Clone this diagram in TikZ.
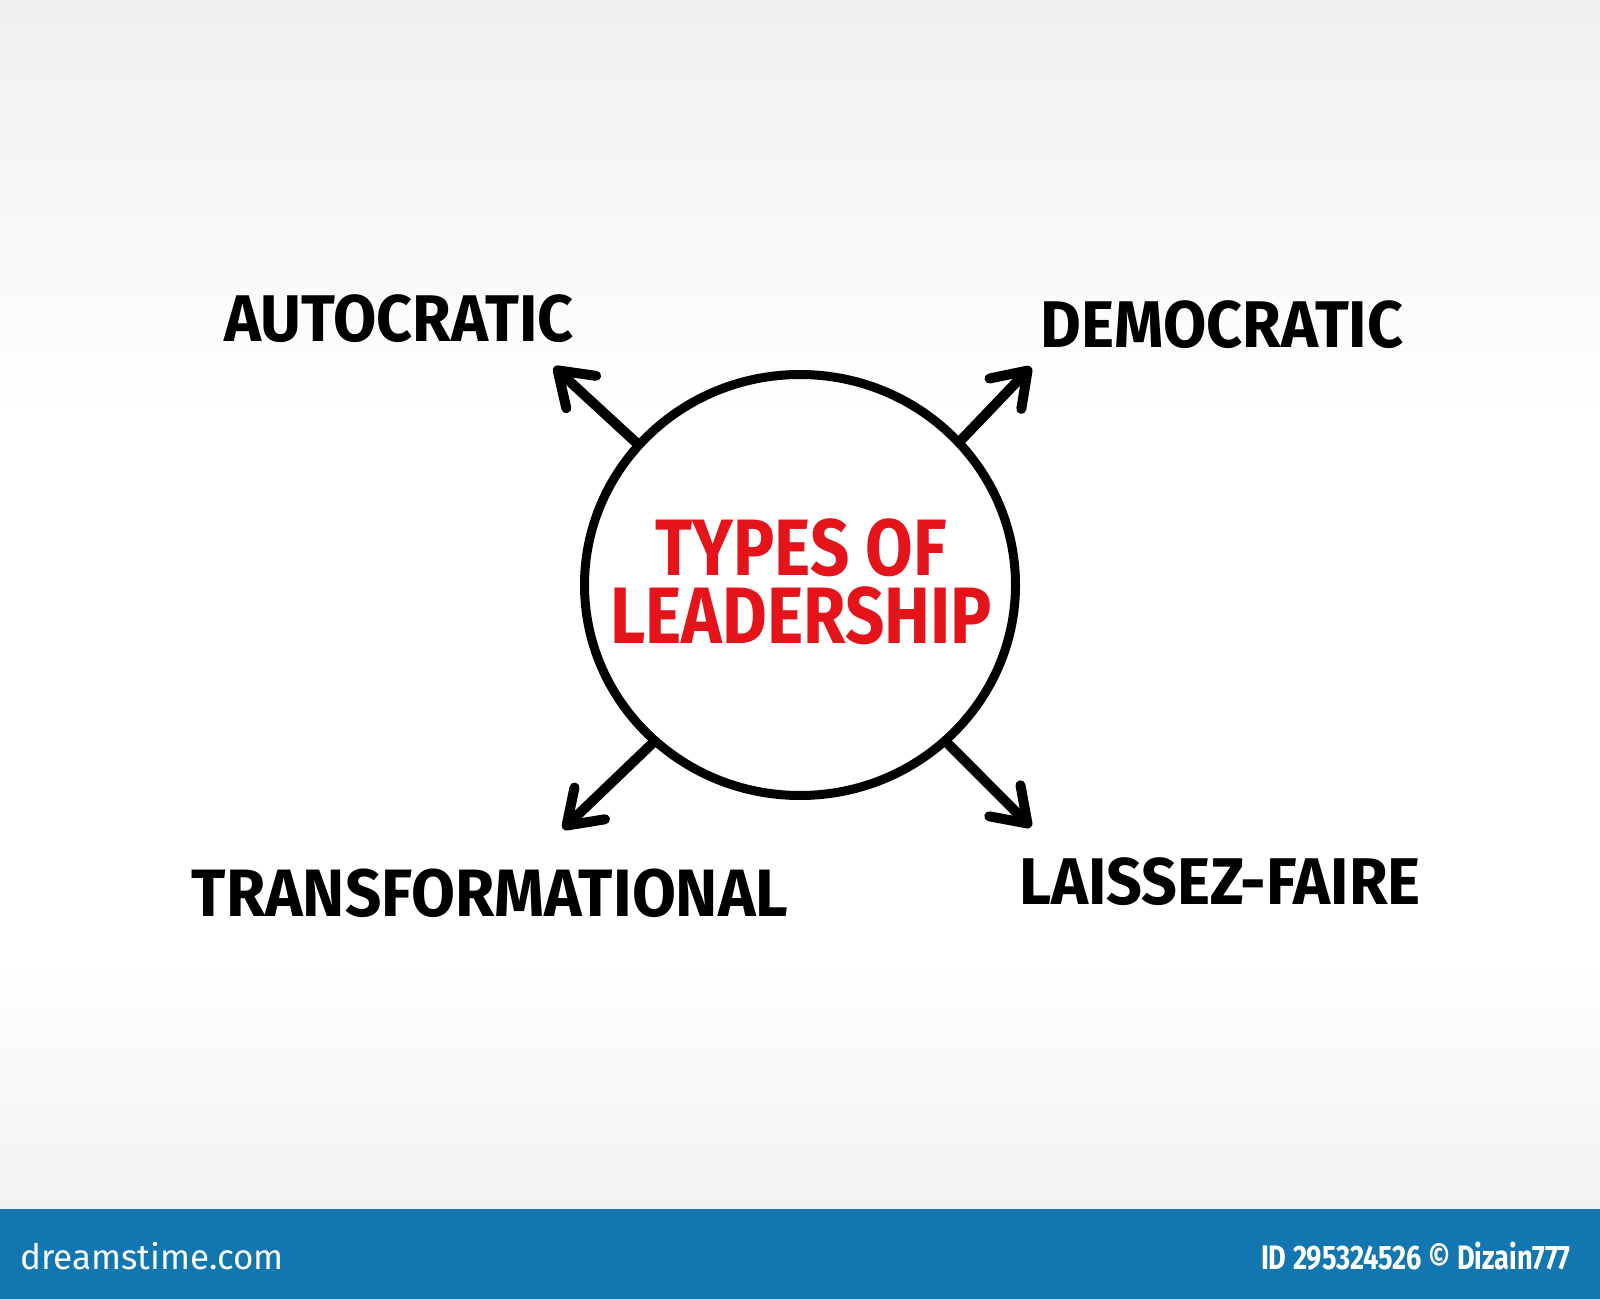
\documentclass[tikz,border=0pt]{standalone}
\usepackage{fontspec}
\setmainfont{Fira Sans}
\newfontfamily\markfont[FakeStretch=0.95]{Fira Sans}
\newfontfamily\titlefont[FakeStretch=0.86]{Fira Sans}
\newfontfamily\stampfont[FakeStretch=0.8]{Fira Sans}
\usetikzlibrary{positioning,shapes.geometric,arrows.meta}
\definecolor{leadred}{HTML}{E5141B}
\definecolor{bannerblue}{HTML}{1277B0}
\tikzset{
  kind/.style={font=\markfont\bfseries\fontsize{33}{38}\selectfont, text=black, inner sep=0pt},
  pointer/.style={line width=5pt, line cap=round,
    -{Straight Barb[length=16pt,width=22pt,round]}},
}
\begin{document}
\begin{tikzpicture}[x=0.5pt,y=-0.5pt]
\useasboundingbox (0,0) rectangle (1600,1299);
\fill[white] (0,0) rectangle (1600,1209);
\shade[top color=gray!12,bottom color=white] (0,0) rectangle (1600,420);
\shade[top color=white,bottom color=gray!10] (0,960) rectangle (1600,1209);
\fill[bannerblue] (0,1209) rectangle (1600,1299);
\node[ellipse, draw, line width=4.5pt, minimum width=215.5pt, minimum height=210.5pt] (hub) at (800,585) {};
\node[align=center, text=leadred, inner sep=0pt, font=\titlefont\bfseries\fontsize{40}{34}\selectfont] (title) at (801,582) {TYPES OF\\LEADERSHIP};
\coordinate (tipAuto) at (554,367);
\coordinate (tipDemo) at (1031,367);
\coordinate (tipTrans) at (563,829);
\coordinate (tipLais) at (1031,827);
\draw[pointer] (hub.139) -- (tipAuto);
\draw[pointer] (hub.42) -- (tipDemo);
\draw[pointer] (hub.227) -- (tipTrans);
\draw[pointer] (hub.313) -- (tipLais);
\node[kind] (auto) at (399,319) {AUTOCRATIC};
\node[kind] (demo) at (1222,325) {DEMOCRATIC};
\node[kind, font=\markfont\bfseries\fontsize{33.5}{38}\selectfont] (trans) at (490,893) {TRANSFORMATIONAL};
\node[kind] (lais) at (1220,882) {LAISSEZ-FAIRE};
\node[text=white, inner sep=0pt, anchor=west, font=\fontsize{17.5}{22}\selectfont] (site) at (20,1256) {dreamstime.com};
\node[text=white, inner sep=0pt, anchor=east, font=\stampfont\bfseries\fontsize{17}{20}\selectfont] (stamp) at (1571,1256) {ID 295324526 © Dizain777};
\end{tikzpicture}
\end{document}
